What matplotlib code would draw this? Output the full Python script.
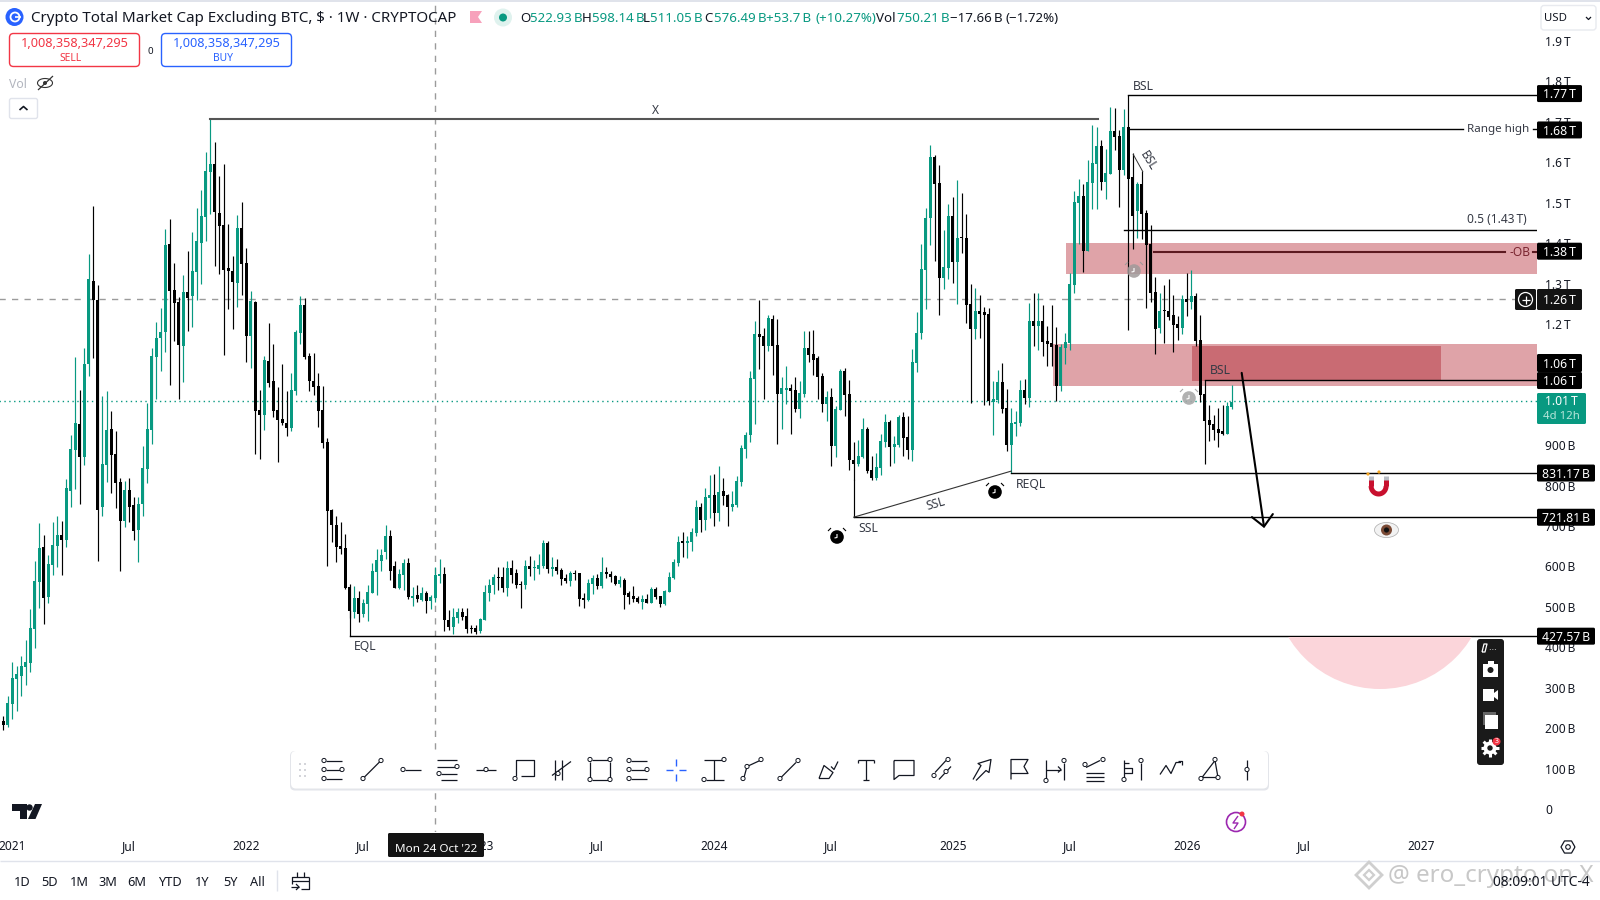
import matplotlib
matplotlib.use("Agg")
import matplotlib.pyplot as plt
import numpy as np
from matplotlib.patches import Circle, FancyBboxPatch, Polygon, Rectangle

plt.rcParams['font.family'] = ['Noto Sans', 'DejaVu Sans']

# weekly candles, values in billions of USD
opens = [218,208,260,322,329,351,361,445,562,648,
524,604,651,678,666,787,888,952,871,1101,
1306,1259,747,851,940,878,809,713,789,752,
690,755,841,938,1118,1165,1180,1398,1284,1254,
1145,1279,1269,1329,1400,1465,1576,1596,1475,1445,
1338,1331,1301,1437,1351,1170,1254,987,975,1108,
1059,987,965,955,943,1034,1178,1247,1121,1059,
1047,987,908,740,703,651,646,549,487,522,
482,507,534,586,614,636,675,601,547,579,
609,522,529,517,534,515,522,576,581,468,
450,473,487,477,448,448,440,468,534,554,
574,574,547,596,584,557,554,601,596,594,
601,658,594,599,591,572,564,584,584,522,
517,557,572,552,586,581,576,557,567,534,
527,522,512,520,510,544,527,507,537,572,
609,663,658,661,683,747,715,769,777,732,
787,777,747,752,809,891,925,1064,1175,1170,
1145,1212,1148,1027,1037,1042,1037,990,1027,1141,
1126,1116,1071,1002,1019,898,987,1084,1027,863,
854,871,940,839,819,844,908,957,896,901,
970,920,888,1103,1178,1333,1462,1613,1549,1314,
1338,1467,1353,1415,1413,1249,1188,1232,1230,1225,
1007,1012,1056,992,901,952,955,1037,1017,1207,
1195,1207,1158,1153,1148,1047,1141,1153,1296,1499,
1517,1380,1549,1596,1640,1551,1571,1677,1665,1581,
1687,1564,1479,1546,1475,1398,1279,1190,1235,1232,
1222,1200,1190,1262,1254,1269,1160,1027,962,952,
940,935,928,995]
closes = [208,262,324,334,354,364,448,564,646,522,
606,653,678,666,794,891,955,871,1101,1311,
1259,740,854,938,876,807,713,789,747,688,
755,844,940,1121,1165,1180,1395,1282,1252,1148,
1279,1264,1331,1405,1467,1578,1596,1477,1442,1333,
1331,1304,1437,1348,1170,1257,985,975,1111,1054,
985,962,955,943,1037,1180,1247,1118,1059,1044,
985,905,737,703,648,643,547,490,522,482,
510,537,589,616,628,675,589,547,581,609,
524,527,520,534,515,524,579,581,468,450,
475,487,475,445,445,438,470,537,554,574,
572,547,596,579,554,554,601,594,599,604,
658,594,599,589,569,564,584,581,520,517,
559,572,552,586,581,574,557,567,529,524,
520,512,520,510,544,524,507,539,574,611,
661,658,663,685,747,715,772,777,732,784,
774,747,755,811,893,925,1066,1175,1168,1145,
1215,1145,1027,1042,1042,1034,990,1029,1141,1123,
1111,1069,1002,1019,898,990,1084,1024,863,854,
873,940,836,819,846,910,957,896,903,970,
918,888,1106,1178,1336,1462,1613,1546,1314,1341,
1467,1353,1413,1413,1247,1188,1232,1225,1222,1009,
1014,1056,990,901,955,957,1037,1017,1207,1195,
1207,1155,1150,1143,1047,1143,1155,1299,1502,1517,
1380,1551,1598,1640,1551,1573,1677,1663,1581,1687,
1559,1467,1546,1472,1395,1277,1188,1232,1232,1217,
1197,1190,1262,1254,1269,1158,1024,960,950,938,
930,928,997,1008]
highs = [230,280,364,354,379,418,495,614,708,678,
628,710,725,713,816,925,1118,1037,1141,1373,
1492,1296,1022,1034,985,935,819,811,819,772,
772,898,1004,1141,1205,1239,1435,1460,1351,1267,
1321,1380,1427,1487,1531,1625,1707,1650,1566,1596,
1447,1368,1470,1502,1388,1282,1257,1037,1121,1202,
1150,1044,1101,1034,1079,1185,1269,1264,1128,1128,
1079,1047,918,742,725,710,680,557,552,539,
520,554,609,643,643,703,690,614,594,618,
621,549,554,549,539,529,599,618,599,492,
497,497,497,497,455,455,473,554,569,581,
599,599,614,616,594,564,616,626,616,631,
666,663,623,618,596,581,589,591,584,534,
569,579,581,623,599,589,579,576,572,539,
552,527,529,532,549,549,527,542,586,618,
675,685,675,695,764,757,794,826,829,849,
819,779,787,824,901,933,1084,1207,1259,1190,
1222,1222,1212,1069,1096,1051,1069,1059,1183,1183,
1185,1121,1079,1034,1042,997,1089,1091,1061,908,
913,967,945,873,881,928,977,962,923,975,
982,972,1138,1230,1398,1487,1643,1618,1593,1432,
1497,1514,1556,1524,1472,1299,1289,1272,1242,1239,
1059,1086,1103,1039,992,985,1061,1064,1252,1277,
1277,1247,1195,1247,1192,1150,1178,1326,1529,1559,
1546,1606,1692,1687,1655,1633,1737,1734,1680,1732,
1766,1623,1551,1578,1482,1445,1316,1277,1296,1311,
1272,1220,1272,1326,1333,1277,1222,1061,999,975,
992,999,1007,1049]
lows = [195,203,223,242,280,307,339,398,497,458,
510,579,599,579,648,747,792,755,851,1071,
1116,614,725,809,782,745,589,698,710,666,
611,725,807,903,1014,1084,1131,1049,1158,1014,
1056,1183,1192,1259,1299,1405,1472,1343,1324,1123,
1237,1188,1242,1272,1106,1091,878,866,938,1044,
970,858,950,923,935,1024,1150,1113,1034,1024,
945,893,601,661,611,631,544,473,473,463,
475,465,534,529,589,618,567,547,544,542,
520,502,512,515,485,495,512,559,440,443,
433,460,468,435,435,433,435,468,515,532,
542,537,527,559,547,497,544,576,567,581,
596,584,576,581,554,559,552,567,502,497,
515,532,544,547,572,562,554,549,495,507,
512,510,495,510,510,520,500,505,537,569,
601,623,621,638,675,685,690,720,700,713,
752,700,737,747,799,868,908,952,1089,1014,
1133,1074,903,940,1002,928,982,967,1019,1106,
1074,1014,982,960,849,871,987,972,839,814,
849,868,831,814,814,826,896,849,856,896,
873,866,861,1081,1163,1237,1395,1356,1222,1286,
1311,1301,1249,1376,1202,1004,1163,1165,999,999,
925,1004,980,886,831,923,948,1002,995,1145,
1136,1121,1096,1096,1009,1034,1101,1136,1277,1398,
1329,1380,1484,1484,1531,1509,1571,1630,1489,1569,
1185,1385,1413,1410,1239,1254,1126,1178,1153,1210,
1131,1160,1175,1220,1237,1145,1007,854,910,913,
896,925,928,990]

price_ticks = list(range(0, 2000, 100))
price_labels = ['0', '100\u2009B', '200\u2009B', '300\u2009B', '400\u2009B', '500\u2009B', '600\u2009B',
                '700\u2009B', '800\u2009B', '900\u2009B', '1\u2009T', '1.1\u2009T', '1.2\u2009T', '1.3\u2009T',
                '1.4\u2009T', '1.5\u2009T', '1.6\u2009T', '1.7\u2009T', '1.8\u2009T', '1.9\u2009T']
price_labels[10] = ''  # hidden in the picture by the last price tag
price_labels[11] = ''  # hidden by the 1.06 T tags
time_ticks = [1.9, 28, 54, 80, 106, 132, 158, 184, 211, 237, 263, 289, 315]
time_labels = ['2021', 'Jul', '2022', 'Jul', '2023', 'Jul', '2024', 'Jul', '2025', 'Jul', '2026', 'Jul', '2027']

tag_prices = [1770, 1680, 1380, 831.17, 721.81, 427.57, 1060]
tag_labels = ['1.77\u2009T', '1.68\u2009T', '1.38\u2009T', '831.17\u2009B', '721.81\u2009B', '427.57\u2009B', '1.06\u2009T']
last_price = 1008.36
cross_price = 1262
cross_bar = 96

GREEN = '#089981'
INK = '#131722'
NOTE = '#363a45'

fig = plt.figure(figsize=(16, 9), dpi=100)
W, H = 1600.0, 900.0

# chart pane: x=0..1537 px, y=0..832 px. 4.5 px per bar, 404.2 px per trillion
ax = fig.add_axes([0, 1 - 832 / H, 1537 / W, 832 / H])
ax.set_xlim(-3.3 / 4.5, (1537 - 3.3) / 4.5)
ax.set_ylim((809 - 832) / 0.4042, 809 / 0.4042)
for s in ax.spines.values():
    s.set_visible(False)

x = np.arange(len(opens))
o = np.array(opens)
c = np.array(closes)
hi = np.array(highs)
lo = np.array(lows)
up = c >= o
colors = np.where(up, GREEN, '#000000')
right = ax.get_xlim()[1]

# zones
ax.fill_between([236.2, right], 1324, 1400, color='#dfa3a8', lw=0, zorder=1)
ax.fill_between([233.3, right], 1047, 1150, color='#dfa3a8', lw=0, zorder=1)
ax.fill_between([264.2, 319.5], 1059, 1145, color='#c96b73', lw=0, zorder=1.1)

# crosshair and last price line
ax.hlines(cross_price, -1, 336.5, color='#9b9b9b', lw=1, linestyles=(0, (4.5, 4.5)), zorder=1.5)
ax.vlines(cross_bar, -100, 2100, color='#9b9b9b', lw=1, linestyles=(0, (4.5, 4.5)), zorder=1.5)
ax.hlines(last_price, -1, right, color=GREEN, lw=1, linestyles=(0, (1, 2.5)), zorder=1.5)

ax.vlines(x, lo, hi, colors=colors, lw=0.85, zorder=3)
ax.bar(x, np.maximum(np.abs(c - o), 2.5), bottom=np.minimum(o, c), width=0.68, color=colors, lw=0, zorder=3.1)

# levels drawn on the chart
ax.plot([46, 243.2], [1707, 1707], color='#555555', lw=1.5, zorder=4)
ax.plot([250, right], [1766, 1766], color='#000000', lw=1, zorder=4)
ax.plot([250, 324.4], [1682, 1682], color='#000000', lw=1, zorder=4)
ax.plot([340, right], [1682, 1682], color='#000000', lw=1, zorder=4)
ax.plot([249, right], [1432, 1432], color='#000000', lw=1, zorder=4)
ax.plot([255.7, 333.7], [1378, 1378], color='#5c1a20', lw=1.5, zorder=4)
ax.plot([340, right], [1378, 1378], color='#5c1a20', lw=1.5, zorder=4)
ax.plot([267, right], [1061, 1061], color='#000000', lw=1, zorder=4)
ax.plot([189, right], [722, 722], color='#000000', lw=1, zorder=4)
ax.plot([224, right], [831, 831], color='#000000', lw=1, zorder=4)
ax.plot([77, right], [428, 428], color='#000000', lw=1, zorder=4)
ax.plot([77, 77], [428, 490], color='#000000', lw=0.85, zorder=4)
ax.plot([189, 189], [722, 814], color='#000000', lw=0.85, zorder=4)
ax.plot([189, 224], [722, 836], color='#333333', lw=0.8, zorder=4)
ax.annotate('', xy=(280.2, 695), xytext=(275.2, 1079),
            arrowprops=dict(arrowstyle='->,head_length=0.4,head_width=0.38', color='#000000', lw=1.5,
                            mutation_scale=20, shrinkA=0, shrinkB=0), zorder=5)

# axes
ax.yaxis.tick_right()
ax.set_yticks(price_ticks)
ax.set_yticklabels(price_labels, fontsize=8.6, color=INK)
ax.tick_params(axis='y', length=0, pad=5.8)
ax.set_xticks(time_ticks)
ax.set_xticklabels(time_labels, fontsize=8.6, color=INK)
ax.tick_params(axis='x', length=0, pad=5.8)
for lab, txt in zip(ax.get_xticklabels(), time_labels):
    if txt != 'Jul':
        lab.set_fontweight('bold')

# screen overlay in pixel coordinates for the TradingView furniture
ui = fig.add_axes([0, 0, 1, 1], zorder=5)
ui.set_xlim(0, W)
ui.set_ylim(H, 0)
ui.axis('off')
ui.patch.set_alpha(0)


def py(price):
    return 809 - price * 0.4042


def label(px, py_, s, size=8.6, color=INK, ha='left', **kw):
    ui.text(px, py_ + 1.2, s, fontsize=size, color=color, ha=ha, va='center', **kw)


def box(x0, y0, x1, y1, fc='none', ec='none', r=0, lw=1, z=2):
    if r:
        p = FancyBboxPatch((x0, y0), x1 - x0, y1 - y0, boxstyle='round,pad=0,rounding_size=%s' % r,
                           fc=fc, ec=ec, lw=lw, zorder=z)
    else:
        p = Rectangle((x0, y0), x1 - x0, y1 - y0, fc=fc, ec=ec, lw=lw, zorder=z)
    ui.add_patch(p)


def seg(pts, color='#000000', lw=0.9, z=6, **kw):
    pts = np.array(pts, dtype=float)
    ui.plot(pts[:, 0], pts[:, 1], color=color, lw=lw, zorder=z, solid_capstyle='butt', **kw)


# top strip, header
box(0, 0, W, 1.8, fc='#e0e3eb')
ui.add_patch(Circle((14.5, 17), 9, fc='#2962ff', ec='none'))
ui.add_patch(Circle((15, 17), 4.5, fc='none', ec='white', lw=1.3))
seg([[15, 17], [21, 17]], color='white', lw=1.2)
label(31, 17.5, 'Crypto Total Market Cap Excluding BTC, $ \u00b7 1W \u00b7 CRYPTOCAP', size=10.9)
ui.add_patch(Polygon([[470, 11], [482, 11], [478, 17], [482, 23], [470, 23]], fc='#f7a1bb', ec='none'))
ui.add_patch(Circle((503, 17.5), 9, fc='#dff2ee', ec='none'))
ui.add_patch(Circle((503, 17.5), 4, fc=GREEN, ec='none'))

ohlc_parts = [(520, 'O', INK), (530, '522.93\u2009B', GREEN), (582, 'H', INK), (592, '598.14\u2009B', GREEN),
              (643, 'L', INK), (650, '511.05\u2009B', GREEN), (704, 'C', INK), (714, '576.49\u2009B', GREEN),
              (766, '+53.7\u2009B', GREEN), (815, '(+10.27%)', GREEN), (876, 'Vol', INK), (897, '750.21\u2009B', GREEN),
              (950, '\u221217.66\u2009B', INK), (1005, '(\u22121.72%)', INK)]
for px, s, col in ohlc_parts:
    label(px, 17.5, s, size=9.6, color=col)

box(9.5, 33.5, 139.5, 66.5, fc='white', ec='#f23645', r=4)
label(75, 42.5, '1,008,358,347,295', size=9.2, color='#f23645', ha='center')
label(70.7, 57, 'SELL', size=7.4, color='#f23645', ha='center')
label(150, 50, '0', size=7, ha='center')
box(161.5, 33.5, 291.5, 66.5, fc='white', ec='#2962ff', r=4)
label(227, 42.5, '1,008,358,347,295', size=9.2, color='#2962ff', ha='center')
label(222.7, 57, 'BUY', size=7.4, color='#2962ff', ha='center')
label(9, 83, 'Vol', size=8.8, color='#b2b5be')
t = np.linspace(0, 2 * np.pi, 40)
seg(np.c_[45 + 7.5 * np.cos(t), 83 + 4.5 * np.sin(t)], color='#333333', lw=0.8)
ui.add_patch(Circle((45, 83), 2, fc='#333333', ec='none', zorder=6))
seg([[38, 90], [53, 76]], color='#333333', lw=0.9)
box(9.5, 98.5, 37.5, 118.5, fc='white', ec='#e0e3eb', r=2)
seg([[19.5, 110], [23.5, 106.5], [27.5, 110]], color=INK, lw=1.2)

# drawing labels
label(655, 109, 'X', size=8.6, color=NOTE, ha='center')
label(1133, 85, 'BSL', size=8.8, color=NOTE)
label(1498, 128, 'Range high', size=8.4, color=NOTE, ha='center')
label(1527, 218, '0.5 (1.43\u2009T)', size=8.6, color=NOTE, ha='right')
label(1510, 251, '-OB', size=8.6, color='#7a2530')
label(1210, 369, 'BSL', size=8.8, color=NOTE)
label(354, 645, 'EQL', size=8.8, color=NOTE)
label(1016, 483, 'REQL', size=8.8, color=NOTE)
label(858, 527, 'SSL', size=8.8, color=NOTE)
ui.text(936, 504, 'SSL', fontsize=8.6, color=NOTE, rotation=16, ha='center', va='center')
ui.text(1148, 161, 'BSL', fontsize=8.6, color=NOTE, rotation=-58, ha='center', va='center')
seg([[1133, 154], [1143, 172]], color='#333333', lw=0.7)

# alarm clocks
for cx, cy, fc, alpha in [(995, 492, '#000000', 1), (837, 537, '#000000', 1), (1134, 271, '#a09a9a', 0.85), (1189, 398, '#a9a9a9', 0.9)]:
    ui.add_patch(Circle((cx, cy), 6.8, fc=fc, ec='none', alpha=alpha, zorder=6))
    seg([[cx, cy - 3], [cx, cy + 0.5], [cx - 2.5, cy + 1]], color='white', lw=0.8)
    seg([[cx - 9, cy - 6], [cx - 6, cy - 9]], color=fc, lw=0.8)
    seg([[cx + 9, cy - 6], [cx + 6, cy - 9]], color=fc, lw=0.8)

# magnet and eye
t = np.linspace(0, np.pi, 30)
seg(np.c_[1378.6 + 7.5 * np.cos(t), 486 + 8 * np.sin(t)], color='#c8102e', lw=3.6)
seg([[1371, 478], [1371, 486]], color='#c8102e', lw=3.6)
seg([[1386, 478], [1386, 486]], color='#c8102e', lw=3.6)
seg([[1371, 476], [1371, 480]], color='#b8bcc4', lw=3.6)
seg([[1386, 476], [1386, 480]], color='#b8bcc4', lw=3.6)
ui.add_patch(Circle((1368, 474), 1.6, fc='#f5a623', ec='none', zorder=6))
ui.add_patch(Circle((1379, 472), 1.6, fc='#f5a623', ec='none', zorder=6))
t = np.linspace(0, 2 * np.pi, 40)
ui.add_patch(Polygon(np.c_[1386.5 + 12 * np.cos(t), 530 + 7.5 * np.sin(t)], fc='#f2f2f2', ec='#aaaaaa', lw=0.5, zorder=6))
ui.add_patch(Circle((1386.5, 530), 5.5, fc='#7a4a35', ec='none', zorder=6.1))
ui.add_patch(Circle((1386.5, 530), 2.6, fc='#111111', ec='none', zorder=6.2))

# pink bubble below the 427.57 B line
bubble = Circle((1380, 582), 107, fc='#fbd5da', ec='none', zorder=1)
ui.add_patch(bubble)
clip = Rectangle((1200, 636.5), 400, 120, transform=ui.transData)
bubble.set_clip_path(clip)

# price tags
for price, s in zip(tag_prices, tag_labels):
    w = 58 if 'B' in s else 45
    yy = py(price)
    box(1537, yy - 8.5, 1537 + w, yy + 8.5, fc='#000000', r=1.5, z=7)
    label(1537 + w / 2, yy, s, size=8.8, color='white', ha='center', fontweight='bold', zorder=8)
box(1537, 354, 1582, 372, fc='#000000', r=1.5, z=7)
label(1559.5, 363, '1.06\u2009T', size=8.8, color='white', ha='center', fontweight='bold', zorder=8)
box(1515, 289, 1536, 310, fc='#131313', r=1.5, z=7)
ui.add_patch(Circle((1525.5, 299.5), 7, fc='none', ec='white', lw=0.9, zorder=8))
seg([[1521.5, 299.5], [1529.5, 299.5]], color='white', lw=0.9, z=8)
seg([[1525.5, 295.5], [1525.5, 303.5]], color='white', lw=0.9, z=8)
box(1537, 289, 1582, 310, fc='#131313', r=1.5, z=7)
label(1559.5, 299, '1.26\u2009T', size=8.8, color='white', ha='center', fontweight='bold', zorder=8)
box(1537, 393, 1586, 424, fc=GREEN, r=1.5, z=7)
label(1561, 400.5, '1.01\u2009T', size=8.8, color='white', ha='center', fontweight='bold', zorder=8)
label(1561, 415, '4d 12h', size=8.2, color='#b5e5d9', ha='center', zorder=8)

# currency selector
box(1541, 5.5, 1596, 30, fc='white', ec='#e8eaef', r=3)
label(1544, 17, 'USD', size=8.2, color=INK)
seg([[1586, 17], [1588.5, 19.5], [1591, 17]], color=INK, lw=0.9)

# side widget
box(1477, 639, 1504, 765, fc='#1a1a1a', r=3, z=6)
label(1488, 646, '\u2026', size=7, color='white', ha='left', zorder=7, fontweight='bold')
seg([[1482, 652], [1484, 644], [1487, 644], [1485, 652], [1482, 652]], color='white', lw=0.9, z=7)
box(1483, 664, 1498, 677, fc='white', z=7)
box(1488, 661, 1494, 665, fc='white', z=7)
ui.add_patch(Circle((1490.5, 670), 3, fc='#1a1a1a', ec='none', zorder=8))
box(1483, 689, 1494, 701, fc='white', z=7)
ui.add_patch(Polygon([[1494, 693], [1498, 690], [1498, 700], [1494, 697]], fc='white', ec='none', zorder=7))
box(1483, 712, 1496, 725, fc='#666666', z=7)
box(1485, 715, 1498, 729, fc='white', z=7)
ui.add_patch(Circle((1490, 748), 6.5, fc='white', ec='none', zorder=7))
ui.add_patch(Circle((1490, 748), 2.7, fc='#1a1a1a', ec='none', zorder=8))
for ang in np.arange(0, 360, 45):
    a = np.radians(ang)
    seg([[1490 + 5 * np.cos(a), 748 + 5 * np.sin(a)], [1490 + 9 * np.cos(a), 748 + 9 * np.sin(a)]], color='white', lw=2.2, z=7)
ui.add_patch(Circle((1496.5, 741.5), 4, fc='#f23645', ec='none', zorder=8))
label(1496.5, 740.5, '3', size=5, color='white', ha='center', zorder=9)

# drawing toolbar
shadow = FancyBboxPatch((290, 751), 979, 39.5, boxstyle='round,pad=0,rounding_size=5', fc='#e3e5ea', ec='none', zorder=2.9)
ui.add_patch(shadow)
box(291, 751, 1268, 788.5, fc='white', r=5, z=3)
for dy in (764, 770, 776):
    for dx in (300, 305):
        ui.add_patch(Circle((dx, dy), 1, fc='#c9cbd1', ec='none', zorder=4))

icon_x = [333, 372, 411, 447, 486, 524, 561, 600, 638, 676, 714, 752, 789, 828, 866, 904, 943, 982, 1019, 1056, 1094, 1133, 1171, 1210, 1247]
icons = [
    ([[[-7, -9], [9, -9]], [[-7, 0], [9, 0]], [[-7, 9], [9, 9]]], [[-9, -9], [-9, 0], [-9, 9], [9, 0]]),
    ([[[-9, 9], [9, -9]]], [[-9, 9], [9, -9]]),
    ([[[-6, 0], [10, 0]]], [[-8, 0]]),
    ([[[-10, -10], [10, -10]], [[-10, -3], [8, -3]], [[-6, 4], [10, 4]], [[-6, 10], [10, 10]]], [[10, -3], [-8, 4]]),
    ([[[-10, 0], [10, 0]]], [[0, 0]]),
    ([[[-8, 6], [-8, -10], [10, -10], [10, 6], [-3, 6]]], [[-9, 9]]),
    ([[[-6, -10], [-6, 10]], [[1, -10], [1, 10]], [[-9, 6], [10, -8]]], [[-3, 4]]),
    ([[[-8, -10], [8, -10]], [[-8, 10], [8, 10]], [[-10, -8], [-10, 8]], [[10, -8], [10, 8]]], [[-10, -10], [10, -10], [-10, 10], [10, 10]]),
    ([[[-7, -9], [9, -9]], [[-7, 0], [7, 0]], [[-7, 9], [9, 9]]], [[-9, -9], [-9, 0], [-9, 9], [9, 0]]),
    ([], []),
    ([[[-10, -10], [8, -10]], [[-8, 10], [10, 10]], [[0, -10], [0, 10]]], [[10, -10], [-10, 10]]),
    ([[[-8, 8], [-5, -3], [8, -9]]], [[-9, 9], [-5, -3], [9, -10]]),
    ([[[-9, 9], [7, -7]]], [[-9, 9], [9, -9]]),
    ([[[-9, 9], [-4, -4], [5, 3], [1, 9], [-9, 9]], [[3, -3], [6, 0], [10, -8]]], []),
    ([[[-8, -10], [8, -10]], [[0, -10], [0, 10]], [[-8, -10], [-8, -7]], [[8, -10], [8, -7]], [[-3, 10], [3, 10]]], []),
    ([[[-10, -9], [10, -9], [10, 6], [-5, 6], [-10, 10], [-10, -9]]], []),
    ([[[-8, 3], [3, -9]], [[-4, 10], [8, -3]]], [[5, -10], [-9, 6], [3, 2]]),
    ([[[-9, 10], [-1, -4], [-4, -6], [9, -10], [7, 3], [4, 1], [-6, 11]]], []),
    ([[[-8, 10], [-8, -10], [9, -10], [5, -3], [9, 4], [-8, 4]]], []),
    ([[[-10, -10], [-10, 10]], [[8, -7], [8, 10]], [[-10, 0], [5, 0]], [[2, -3], [5, 0], [2, 3]]], [[-10, 11], [8, -9]]),
    ([[[-8, 3], [10, 3]], [[-8, 7], [10, 7]], [[-8, 11], [10, 11]], [[-8, -2], [6, -9]]], [[-9, -5], [9, -10]]),
    ([[[-9, -10], [-9, 10]], [[-9, -7], [-4, -7]], [[-9, -2], [-1, -2], [-1, 3], [-9, 3]], [[8, -7], [8, 10]]], [[-9, 10], [8, -9]]),
    ([[[-11, 5], [-5, -4], [0, 4], [5, -7], [10, -7]], [[7, -9], [11, -9], [11, -5]]], []),
    ([[[-8, 8], [5, -9], [8, 8], [-8, 8]]], [[5, -10], [-9, 9], [8, 8]]),
    ([[[0, -10], [0, 10]]], [[0, 0]]),
]
icon_y = 769.5
for cx, (lines, handles) in zip(icon_x, icons):
    for ln in lines:
        seg(np.array(ln) + [cx, icon_y], color='#131722', lw=0.9, z=4)
    for hx, hy in handles:
        ui.add_patch(Circle((cx + hx, icon_y + hy), 2.1, fc='white', ec='#131722', lw=0.7, zorder=5))
seg([[666, icon_y], [673, icon_y]], color='#2962ff', lw=1, z=4)
seg([[679, icon_y], [686, icon_y]], color='#2962ff', lw=1, z=4)
seg([[676, icon_y - 11], [676, icon_y - 4]], color='#2962ff', lw=1, z=4)
seg([[676, icon_y + 4], [676, icon_y + 11]], color='#2962ff', lw=1, z=4)

# tradingview logo
ui.add_patch(Polygon([[12, 804], [27, 804], [27, 819], [20, 819], [20, 811], [12, 811]], fc='#131722', ec='none', zorder=6))
ui.add_patch(Circle((29.5, 807.5), 3.2, fc='#131722', ec='none', zorder=6))
ui.add_patch(Polygon([[35, 804], [42, 804], [35.5, 819], [28, 819]], fc='#131722', ec='none', zorder=6))

# flash badge
ui.add_patch(Circle((1236, 822), 9.5, fc='none', ec='#9c27b0', lw=1.2, zorder=6))
seg([[1238, 816], [1233, 823], [1238, 823], [1234, 829]], color='#9c27b0', lw=1, z=6)
ui.add_patch(Circle((1242, 814), 2.5, fc='#f23645', ec='none', zorder=7))

# crosshair date
box(388, 833, 484, 857, fc='#131313', r=1.5, z=7)
label(436, 848, "Mon 24 Oct '22", size=8.4, color='white', ha='center', zorder=8)

# time axis settings
t = np.linspace(0, 2 * np.pi, 7)
seg(np.c_[1568 + 7 * np.cos(t), 847 + 7 * np.sin(t)], color=INK, lw=0.9)
ui.add_patch(Circle((1568, 847), 2.3, fc='none', ec=INK, lw=0.8, zorder=6))

# bottom bar
seg([[0, 861], [W, 861]], color='#e0e3eb', lw=1)
ranges = ['1D', '5D', '1M', '3M', '6M', 'YTD', '1Y', '5Y', 'All']
range_x = [22, 50, 79, 108, 137, 170, 202, 230, 257]
for px, s in zip(range_x, ranges):
    label(px, 881, s, size=9.2, ha='center')
seg([[277, 870], [277, 891]], color='#e0e3eb', lw=1)
seg([[309, 877], [292, 877], [292, 884]], color=INK, lw=0.9)
seg([[309, 877], [309, 889], [301, 889]], color=INK, lw=0.9)
seg([[292, 881], [309, 881]], color=INK, lw=0.9)
seg([[297, 872], [297, 877]], color=INK, lw=0.9)
seg([[304, 872], [304, 877]], color=INK, lw=0.9)
seg([[291, 887], [299, 887]], color=INK, lw=0.9)
seg([[296, 884], [299, 887], [296, 890]], color=INK, lw=0.9)

# watermark and clock
ui.add_patch(Polygon([[1369, 862], [1382, 875], [1369, 888], [1356, 875]], fc='none', ec='#cfcfcf', lw=2, zorder=6))
ui.add_patch(Polygon([[1369, 870], [1374, 875], [1369, 880], [1364, 875]], fc='none', ec='#cfcfcf', lw=1.6, zorder=6))
label(1388, 875, '@ ero_crypto on X', size=17.4, color='#c8c8c8', zorder=6)
label(1590, 881, '08:09:01 UTC-4', size=9.9, ha='right', zorder=7)

fig.savefig('out.png', dpi=100)
